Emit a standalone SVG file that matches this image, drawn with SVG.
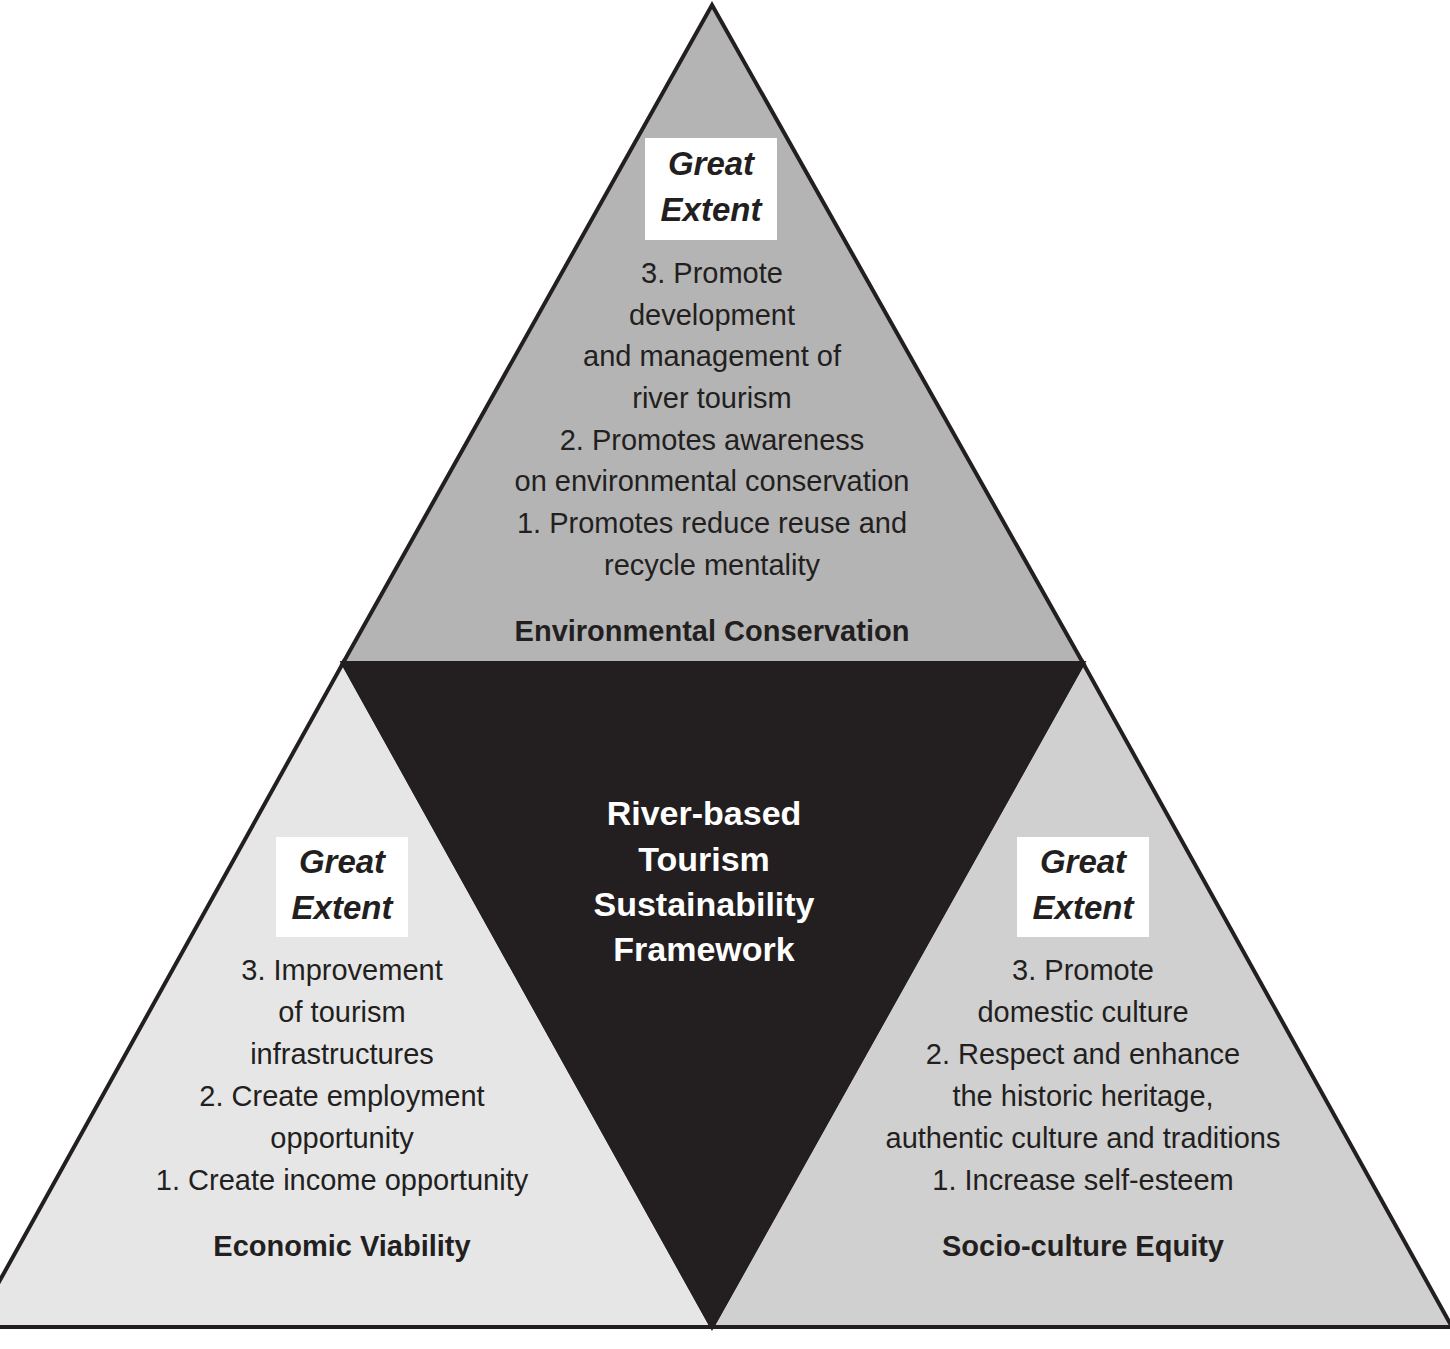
<svg xmlns="http://www.w3.org/2000/svg" width="1450" height="1349" viewBox="0 0 1450 1349">
<style>
.t{font-family:"Liberation Sans",Arial,sans-serif;font-size:29px;fill:#231f20;text-anchor:middle}
.b{font-weight:bold}
.h{font-family:"Liberation Sans",Arial,sans-serif;font-size:33px;font-weight:bold;font-style:italic;fill:#231f20;text-anchor:middle}
.w{font-family:"Liberation Sans",Arial,sans-serif;font-size:34px;font-weight:bold;fill:#fff;text-anchor:middle}
.e{stroke:#231f20;stroke-width:4;stroke-linejoin:miter}
</style>
<rect width="1450" height="1349" fill="#fff"/>
<g id="left">
<polygon class="e" points="343,663 712,1327 -26,1327" fill="#e6e6e6"/>
<rect x="276" y="837" width="132" height="100" fill="#fff"/>
<text class="h" x="342" y="873">Great</text><text class="h" x="342" y="919">Extent</text>
<text class="t" x="342" y="980">3.  Improvement</text>
<text class="t" x="342" y="1022">of tourism</text>
<text class="t" x="342" y="1064">infrastructures</text>
<text class="t" x="342" y="1106">2.  Create employment</text>
<text class="t" x="342" y="1148">opportunity</text>
<text class="t" x="342" y="1190">1.  Create income opportunity</text>
<text class="t b" x="342" y="1256">Economic Viability</text>
</g>
<g id="right">
<polygon class="e" points="1083,663 1452,1327 712,1327" fill="#d0d0d0"/>
<rect x="1017" y="837" width="132" height="100" fill="#fff"/>
<text class="h" x="1083" y="873">Great</text><text class="h" x="1083" y="919">Extent</text>
<text class="t" x="1083" y="980">3.  Promote</text>
<text class="t" x="1083" y="1022">domestic culture</text>
<text class="t" x="1083" y="1064">2.  Respect and enhance</text>
<text class="t" x="1083" y="1106">the historic heritage,</text>
<text class="t" x="1083" y="1148">authentic culture and traditions</text>
<text class="t" x="1083" y="1190">1.  Increase self-esteem</text>
<text class="t b" x="1083" y="1256">Socio-culture Equity</text>
</g>
<g id="center">
<polygon class="e" points="343,663 1083,663 712,1327" fill="#231f20"/>
<text class="w" x="704" y="825">River-based</text>
<text class="w" x="704" y="871">Tourism</text>
<text class="w" x="704" y="916">Sustainability</text>
<text class="w" x="704" y="961">Framework</text>
</g>
<g id="top">
<polygon class="e" points="712,5 1083,663 343,663" fill="#b4b4b4"/>
<rect x="645" y="138" width="132" height="102" fill="#fff"/>
<text class="h" x="711" y="175">Great</text><text class="h" x="711" y="221">Extent</text>
<text class="t" x="712" y="283">3.  Promote</text>
<text class="t" x="712" y="325">development</text>
<text class="t" x="712" y="366">and management of</text>
<text class="t" x="712" y="408">river tourism</text>
<text class="t" x="712" y="450">2.  Promotes awareness</text>
<text class="t" x="712" y="491">on environmental conservation</text>
<text class="t" x="712" y="533">1.  Promotes reduce reuse and</text>
<text class="t" x="712" y="575">recycle mentality</text>
<text class="t b" x="712" y="641">Environmental Conservation</text>
</g>
<g id="connectors"><line x1="0" y1="1327" x2="1450" y2="1327" stroke="#231f20" stroke-width="4"/></g>
</svg>
